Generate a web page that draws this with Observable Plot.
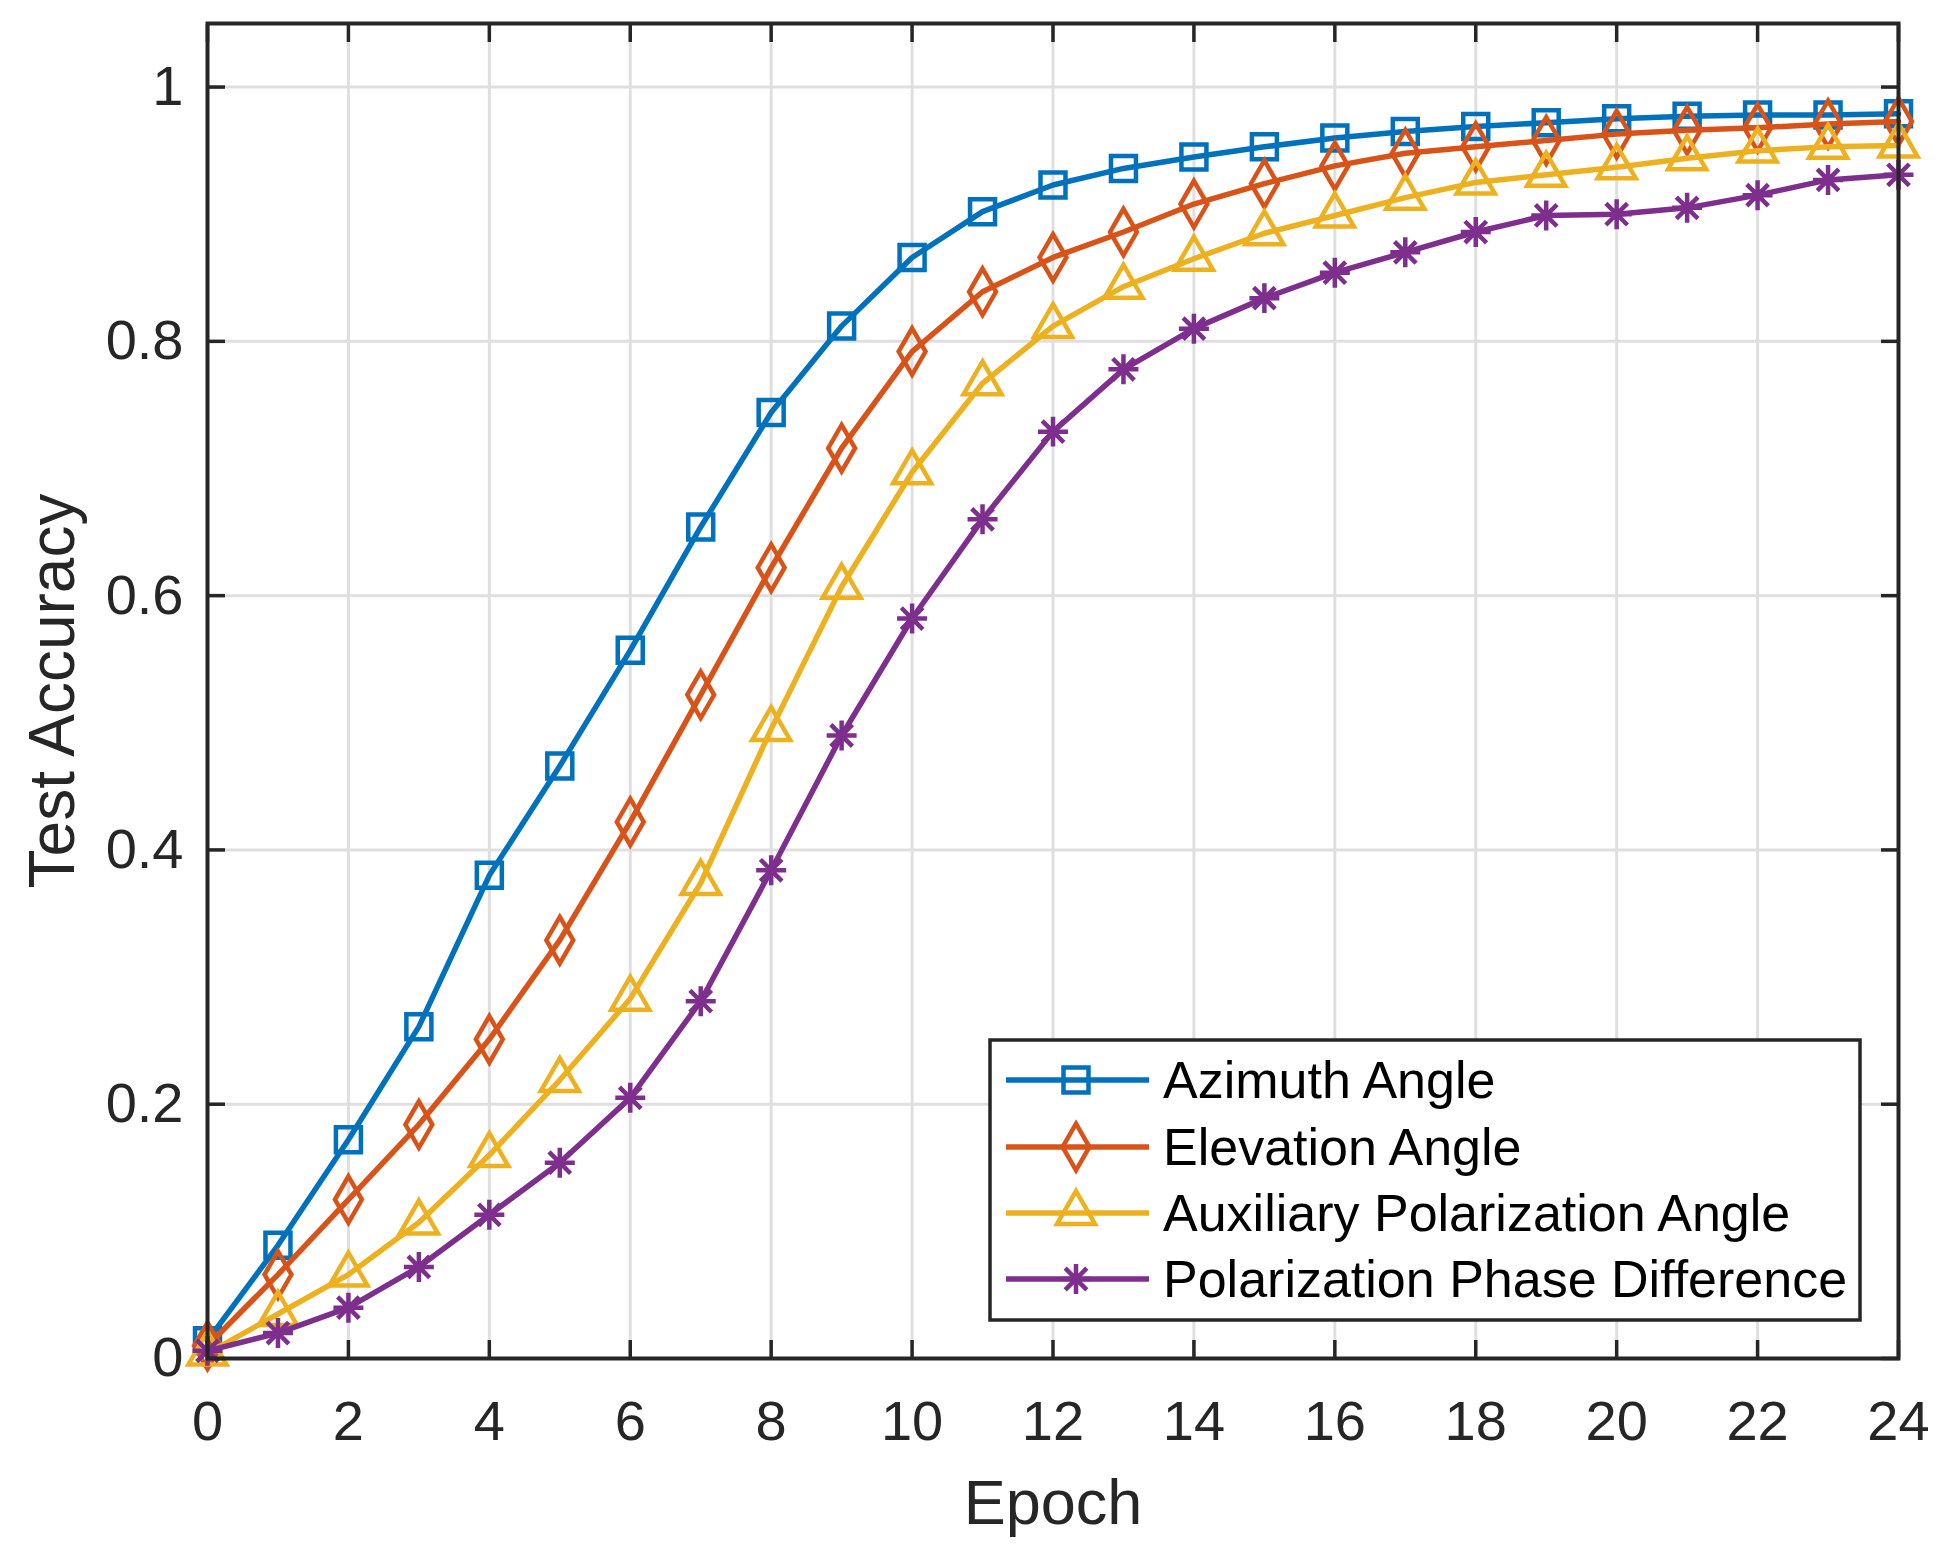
<!DOCTYPE html>
<html>
<head>
<meta charset="utf-8">
<script src="https://cdn.jsdelivr.net/npm/d3@7"></script>
<script src="https://cdn.jsdelivr.net/npm/@observablehq/plot@0.6"></script>
<style>
  body { margin: 0; background: #fff; }
</style>
</head>
<body>
<div id="chart"></div>
<script>
// values
const epochs = [0, 1, 2, 3, 4, 5, 6, 7, 8, 9, 10, 11, 12, 13, 14, 15, 16, 17, 18, 19, 20, 21, 22, 23, 24]
const azimuth = [0.014, 0.089, 0.172, 0.261, 0.380, 0.466, 0.557, 0.654, 0.744, 0.812, 0.866, 0.902, 0.923, 0.936, 0.945, 0.953, 0.960, 0.965, 0.969, 0.972, 0.975, 0.977, 0.978, 0.978, 0.979]
const elevation = [0.010, 0.066, 0.125, 0.184, 0.251, 0.329, 0.422, 0.522, 0.622, 0.716, 0.792, 0.839, 0.866, 0.886, 0.908, 0.924, 0.938, 0.948, 0.953, 0.958, 0.963, 0.966, 0.968, 0.971, 0.973]
const auxiliary = [0.004, 0.035, 0.066, 0.107, 0.160, 0.219, 0.283, 0.374, 0.495, 0.607, 0.697, 0.767, 0.812, 0.843, 0.865, 0.885, 0.899, 0.913, 0.925, 0.931, 0.937, 0.944, 0.950, 0.953, 0.954]
const phase = [0.006, 0.020, 0.040, 0.072, 0.113, 0.154, 0.205, 0.281, 0.384, 0.490, 0.582, 0.660, 0.729, 0.778, 0.810, 0.834, 0.854, 0.870, 0.886, 0.899, 0.900, 0.905, 0.915, 0.927, 0.931]

const names = ['Azimuth Angle', 'Elevation Angle', 'Auxiliary Polarization Angle', 'Polarization Phase Difference']
const colors = ['#0072BD', '#D95319', '#EDB120', '#7E2F8E']
const xTicks = [0, 2, 4, 6, 8, 10, 12, 14, 16, 18, 20, 22, 24]
const yTicks = [0, 0.2, 0.4, 0.6, 0.8, 1]

// matlab style '*' marker: 8 arms
const star8 = {
  draw(context, size) {
    const r = Math.sqrt(size) * 0.6
    const d = r * 0.72
    context.moveTo(0, -r); context.lineTo(0, r)
    context.moveTo(-r, 0); context.lineTo(r, 0)
    context.moveTo(-d, -d); context.lineTo(d, d)
    context.moveTo(-d, d); context.lineTo(d, -d)
  }
}
const symbols = ['square', 'diamond', 'triangle', star8]

const seriesValues = [azimuth, elevation, auxiliary, phase]
const series = names.map((name, i) => epochs.map((e, j) => ({epoch: e, acc: seriesValues[i][j], name})))

const ink = '#262626'
const tick = 18
const lineW = 5.5
const markW = 4.5

const marks = [
  Plot.gridX(xTicks, {stroke: '#dfdfdf', strokeOpacity: 1, strokeWidth: 3}),
  Plot.gridY(yTicks, {stroke: '#dfdfdf', strokeOpacity: 1, strokeWidth: 3}),
]
series.forEach((s, i) => {
  marks.push(Plot.line(s, {x: 'epoch', y: 'acc', stroke: colors[i], strokeWidth: lineW}))
  marks.push(Plot.dot(s, {x: 'epoch', y: 'acc', symbol: symbols[i], r: 14.1, stroke: colors[i], fill: 'none', strokeWidth: markW}))
})
marks.push(
  Plot.frame({stroke: ink, strokeWidth: 4}),
  // inward ticks on all four sides
  Plot.axisX(xTicks, {anchor: 'bottom', tickSize: tick, dy: -tick, tickFormat: () => '', label: null, stroke: ink, strokeWidth: 3.5}),
  Plot.axisX(xTicks, {anchor: 'top', tickSize: tick, dy: tick, tickFormat: () => '', label: null, stroke: ink, strokeWidth: 3.5}),
  Plot.axisY(yTicks, {anchor: 'left', tickSize: tick, dx: tick, tickFormat: () => '', label: null, stroke: ink, strokeWidth: 3.5}),
  Plot.axisY(yTicks, {anchor: 'right', tickSize: tick, dx: -tick, tickFormat: () => '', label: null, stroke: ink, strokeWidth: 3.5}),
  // tick labels
  Plot.axisX(xTicks, {anchor: 'bottom', tickSize: 0, tickPadding: 42, label: null, fontSize: 56, fill: ink}),
  Plot.axisY(yTicks, {anchor: 'left', tickSize: 0, tickPadding: 24, label: null, fontSize: 56, fill: ink, tickFormat: d => String(d)}),
  Plot.text(['Epoch'], {frameAnchor: 'bottom', dy: 165, fontSize: 63, fill: ink}),
  Plot.text(['Test Accuracy'], {frameAnchor: 'left', textAnchor: 'middle', dx: -154, rotate: -90, fontSize: 64, fill: ink})
)

const chart = Plot.plot({
  width: 1951,
  height: 1563,
  marginLeft: 207,
  marginRight: 53,
  marginTop: 23,
  marginBottom: 205,
  style: {fontFamily: '"Liberation Sans", Arial, Helvetica, sans-serif', background: '#fff', color: ink},
  x: {domain: [0, 24]},
  y: {domain: [0, 1.05]},
  marks
})

// legend box, bottom right inside the axes
const svg = d3.select(chart)
const lg = svg.append('g')
lg.append('rect')
  .attr('x', 990).attr('y', 1040).attr('width', 870).attr('height', 280)
  .attr('fill', '#fff').attr('stroke', ink).attr('stroke-width', 3.5)
const rowY = [1080, 1147, 1213, 1279]
const d3sym = [d3.symbolSquare, d3.symbolDiamond, d3.symbolTriangle, star8]
names.forEach((name, i) => {
  const g = lg.append('g').attr('transform', `translate(0,${rowY[i]})`)
  g.append('line').attr('x1', 1006).attr('x2', 1149).attr('y1', 0).attr('y2', 0)
    .attr('stroke', colors[i]).attr('stroke-width', lineW)
  g.append('path').attr('transform', 'translate(1076,0)')
    .attr('d', d3.symbol(d3sym[i], Math.PI * 14.1 * 14.1)())
    .attr('fill', 'none').attr('stroke', colors[i]).attr('stroke-width', markW)
  g.append('text').attr('x', 1163).attr('y', 0).attr('dy', '0.35em')
    .attr('text-anchor', 'start')
    .attr('font-size', 52).attr('fill', '#000').text(name)
})

d3.select('#chart').append(() => chart)
</script>
</body>
</html>
